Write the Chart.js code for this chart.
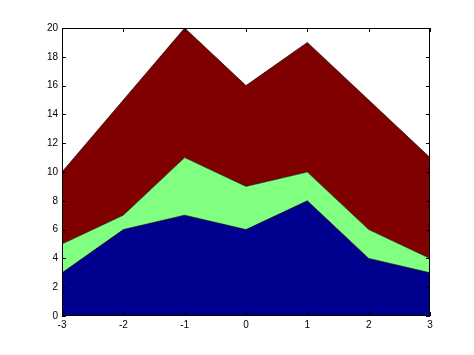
<!DOCTYPE html>
<html>
<head>
<meta charset="utf-8">
<script src="https://cdn.jsdelivr.net/npm/chart.js@4/dist/chart.umd.min.js"></script>
<style>
  html, body { margin: 0; padding: 0; background: #fff; }
  #wrap { width: 474px; height: 355px; }
</style>
</head>
<body>
<div id="wrap"><canvas id="c" width="474" height="355"></canvas></div>
<script>
const xValues = [-3, -2, -1, 0, 1, 2, 3];
const blueSeries = [3, 6, 7, 6, 8, 4, 3];
const greenSeries = [2, 1, 4, 3, 2, 2, 1];
const redSeries = [5, 8, 9, 7, 9, 9, 7];
const xTicks = [-3, -2, -1, 0, 1, 2, 3];
const yTicks = [0, 2, 4, 6, 8, 10, 12, 14, 16, 18, 20];

const toPoints = (vals) => vals.map((v, i) => ({ x: xValues[i], y: v }));

// ticks pointing inward, mirrored on top and right like MATLAB
const innerTicks = {
  id: 'innerTicks',
  afterDraw(chart) {
    const { ctx, chartArea: a, scales } = chart;
    ctx.save();
    ctx.strokeStyle = '#000';
    ctx.lineWidth = 1;
    ctx.beginPath();
    ctx.rect(a.left + 0.5, a.top + 0.5, a.right - a.left - 1, a.bottom - a.top - 1);
    xTicks.forEach(t => {
      const px = Math.round(scales.x.getPixelForValue(t)) + 0.5;
      ctx.moveTo(px, a.bottom); ctx.lineTo(px, a.bottom - 4);
      ctx.moveTo(px, a.top); ctx.lineTo(px, a.top + 4);
    });
    yTicks.forEach(t => {
      const py = Math.round(scales.y.getPixelForValue(t)) + 0.5;
      ctx.moveTo(a.left, py); ctx.lineTo(a.left + 4, py);
      ctx.moveTo(a.right, py); ctx.lineTo(a.right - 4, py);
    });
    ctx.stroke();
    ctx.restore();
  }
};

const ds = (label, vals, color, fill) => ({
  label: label,
  data: toPoints(vals),
  backgroundColor: color,
  borderColor: '#000',
  borderWidth: 0.6,
  pointRadius: 0,
  tension: 0,
  fill: fill
});

new Chart(document.getElementById('c'), {
  type: 'line',
  data: {
    datasets: [
      ds('1', blueSeries, 'rgb(0,0,143)', 'origin'),
      ds('2', greenSeries, 'rgb(128,255,128)', '-1'),
      ds('3', redSeries, 'rgb(128,0,0)', '-1')
    ]
  },
  plugins: [innerTicks],
  options: {
    responsive: false,
    animation: false,
    layout: { padding: { top: 28, right: 44, left: 0, bottom: 0 } },
    plugins: { legend: { display: false }, tooltip: { enabled: false } },
    scales: {
      x: {
        type: 'linear',
        min: -3, max: 3,
        afterBuildTicks: (s) => { s.ticks = xTicks.map(v => ({ value: v })); },
        afterFit: (s) => { s.height = 39; },
        grid: { display: false, drawTicks: false },
        border: { display: false },
        ticks: { color: '#000', padding: 3, font: { family: 'Liberation Sans, Arial, sans-serif', size: 10 } }
      },
      y: {
        stacked: true,
        min: 0, max: 20,
        afterBuildTicks: (s) => { s.ticks = yTicks.map(v => ({ value: v })); },
        afterFit: (s) => { s.width = 62; },
        grid: { display: false, drawTicks: false },
        border: { display: false },
        ticks: { color: '#000', padding: 4, font: { family: 'Liberation Sans, Arial, sans-serif', size: 10 } }
      }
    }
  }
});
</script>
</body>
</html>
